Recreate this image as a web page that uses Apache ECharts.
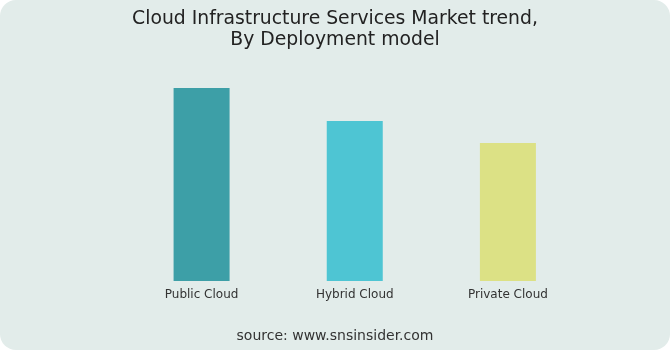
<!DOCTYPE html>
<html>
<head>
<meta charset="utf-8">
<script src="https://cdn.jsdelivr.net/npm/echarts@6/dist/echarts.min.js"></script>
<style>
html,body{margin:0;padding:0;background:#ffffff;}
#chart{width:670px;height:350px;}
</style>
</head>
<body>
<div id="chart"></div>
<script>
const categories = ["Public Cloud", "Hybrid Cloud", "Private Cloud"];
const values = [39.3, 32.6, 28.1];
const barColors = ["#3D9FA7", "#4EC5D3", "#DCE185"];
const titleText = "Cloud Infrastructure Services Market trend,\nBy Deployment model";
const sourceText = "source: www.snsinsider.com";

const chart = echarts.init(document.getElementById('chart'), null, {renderer: 'canvas'});
chart.setOption({
  backgroundColor: '#ffffff',
  animation: false,
  graphic: [
    {type: 'rect', z: -10, shape: {x: 0, y: 0, width: 670, height: 350, r: 16}, style: {fill: '#E2ECEA'}},
    {type: 'text', left: 'center', top: 329, style: {text: sourceText, fill: '#333333', font: '14px "DejaVu Sans"'}}
  ],
  title: {
    text: titleText, left: 'center', top: 3,
    textStyle: {fontFamily: 'DejaVu Sans', fontWeight: 'normal', fontSize: 18.8, color: '#222222', lineHeight: 21.5}
  },
  grid: {left: 125, right: 85.5, top: 35.5, bottom: 69},
  xAxis: {
    type: 'category', data: categories,
    axisLine: {show: false}, axisTick: {show: false},
    axisLabel: {color: '#333333', fontFamily: 'DejaVu Sans', fontSize: 12, margin: 8}
  },
  yAxis: {type: 'value', min: 0, max: 50, show: false, splitLine: {show: false}},
  series: [{
    type: 'bar', barWidth: 56,
    data: values.map((v, i) => ({value: v, itemStyle: {color: barColors[i]}}))
  }]
});
</script>
</body>
</html>
